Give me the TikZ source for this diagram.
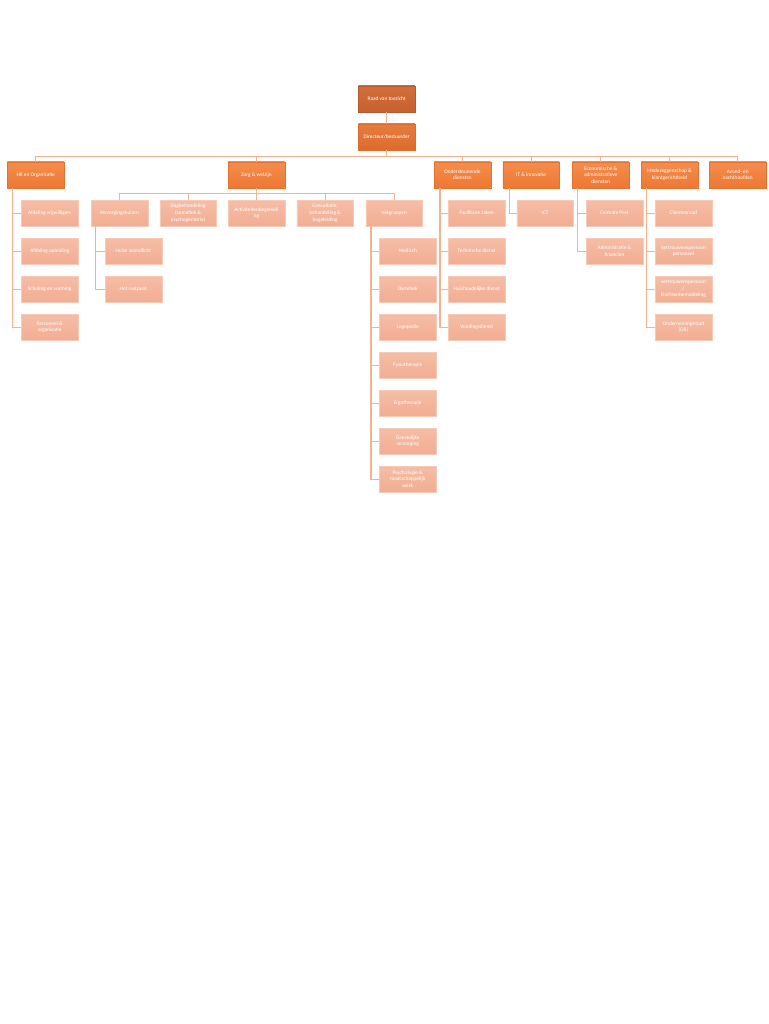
\documentclass[tikz,border=0pt]{standalone}
\usepackage{fontspec}
\setmainfont{Carlito}
\definecolor{cAt}{HTML}{D36F3A}
\definecolor{cAb}{HTML}{C66130}
\definecolor{cBt}{HTML}{E67C3E}
\definecolor{cBb}{HTML}{DC6C2E}
\definecolor{cCt}{HTML}{F48D4D}
\definecolor{cCb}{HTML}{EE7833}
\definecolor{cDt}{HTML}{F5BDA6}
\definecolor{cDb}{HTML}{F2AD92}
\definecolor{cLine}{HTML}{F4B295}
\tikzset{
  box/.style={minimum width=56.5pt, minimum height=26pt, anchor=north west, inner sep=0.5pt,
    align=center, text=white, font=\fontsize{5.3}{6.6}\selectfont},
  lvA/.style={box, top color=cAt, bottom color=cAb, draw=cAb!92!black, line width=0.3pt},
  lvB/.style={box, top color=cBt, bottom color=cBb, draw=cBb, line width=0.3pt},
  lvC/.style={box, top color=cCt, bottom color=cCb, draw=cCb!95!black, line width=0.3pt},
  lvD/.style={box, top color=cDt, bottom color=cDb, draw=cDt!80!white, line width=0.3pt},
  conn/.style={draw=cLine, line width=1.2pt}
}
\begin{document}
\begin{tikzpicture}[x=1pt,y=-1pt]
\useasboundingbox[fill=white] (0,0) rectangle (768,1024);
% top
\node[lvA] (raad) at (358.3,85.7) {Raad van toezicht};
\node[lvB] (dir) at (358.3,123.7) {Directeur/bestuurder};
% level 2
\node[lvC] (hr) at (7.3,161.7) {HR en Organisatie};
\node[lvC] (zorg) at (228,161.7) {Zorg \& welzijn};
\node[lvC] (ond) at (434,161.7) {Ondersteunende\\diensten};
\node[lvC] (it) at (502.7,161.7) {IT \& innovatie};
\node[lvC] (eco) at (572.3,161.7) {Economische \&\\administratieve\\diensten};
\node[lvC] (mede) at (641,161.7) {Medezeggenschap \&\\klantgerichtheid};
\node[lvC] (avond) at (709.3,161.7) {Avond- en\\nachthoofden};
% HR children
\node[lvD] (hr1) at (21.3,200) {Afdeling vrijwilligers};
\node[lvD] (hr2) at (21.3,238) {Afdeling opleiding};
\node[lvD] (hr3) at (21.3,276) {Scholing en vorming};
\node[lvD] (hr4) at (21.3,314) {Personeel \&\\organisatie};
% Zorg children
\node[lvD] (verz) at (91,200) {Verzorgingshuizen};
\node[lvD] (dagb) at (159.7,200) {Dagbehandeling\\(somatiek \&\\psychogeriatrie)};
\node[lvD] (activ) at (228,200) {Activiteitenbegeleidi\\ng};
\node[lvD] (cons) at (296.7,200) {Consultatie,\\behandeling \&\\begeleiding};
\node[lvD] (vakg) at (365.7,200) {Vakgroepen};
% Verzorgingshuizen children
\node[lvD] (verz1) at (105,238) {Huize avondlicht};
\node[lvD] (verz2) at (105,276) {Het rustpunt};
% Vakgroepen children
\node[lvD] (vak1) at (379.3,238) {Medisch};
\node[lvD] (vak2) at (379.3,276) {Dietetiek};
\node[lvD] (vak3) at (379.3,314) {Logopedie};
\node[lvD] (vak4) at (379.3,352) {Fysiotherapie};
\node[lvD] (vak5) at (379.3,390) {Ergotherapie};
\node[lvD] (vak6) at (379.3,428) {Geestelijke\\verzorging};
\node[lvD] (vak7) at (379.3,466) {Psychologie \&\\maatschappelijk\\werk};
% Ondersteunende children
\node[lvD] (ond1) at (448.3,200) {Facilitaire zaken};
\node[lvD] (ond2) at (448.3,238) {Technische dienst};
\node[lvD] (ond3) at (448.3,276) {Huishoudelijke dienst};
\node[lvD] (ond4) at (448.3,314) {Voedingsdienst};
% IT children
\node[lvD] (it1) at (516.7,200) {ICT};
% Eco children
\node[lvD] (eco1) at (586,200) {Centrale Post};
\node[lvD] (eco2) at (586,238) {Administratie \&\\financien};
% Mede children
\node[lvD] (mede1) at (655,200) {Clientenraad};
\node[lvD] (mede2) at (655,238) {Vertrouwenspersoon\\personeel};
\node[lvD] (mede3) at (655,276) {vertrouwenspersoon\\/\\klachtenbemiddeling};
\node[lvD] (mede4) at (655,314) {Ondernemingsraad\\(OR)};

% connectors
\draw[conn] (raad) -- (dir);
\draw[conn] (dir.south) -- ++(0,6.3) coordinate (bus);
\foreach \n in {hr,zorg,ond,it,eco,mede,avond} \draw[conn] (bus) -| (\n.north);
\draw[conn] (zorg.south) -- ++(0,5.6) coordinate (zbus);
\foreach \n in {verz,dagb,activ,cons,vakg} \draw[conn] (zbus) -| (\n.north);
\foreach \n in {hr1,hr2,hr3,hr4} \draw[conn] ([xshift=5.5pt]hr.south west) |- (\n.west);
\foreach \n in {verz1,verz2} \draw[conn] ([xshift=4.7pt]verz.south west) |- (\n.west);
\foreach \n in {vak1,vak2,vak3,vak4,vak5,vak6,vak7} \draw[conn] ([xshift=5.3pt]vakg.south west) |- (\n.west);
\foreach \n in {ond1,ond2,ond3,ond4} \draw[conn] ([xshift=6pt]ond.south west) |- (\n.west);
\draw[conn] ([xshift=6.6pt]it.south west) |- (it1.west);
\foreach \n in {eco1,eco2} \draw[conn] ([xshift=5.4pt]eco.south west) |- (\n.west);
\foreach \n in {mede1,mede2,mede3,mede4} \draw[conn] ([xshift=5.7pt]mede.south west) |- (\n.west);
\end{tikzpicture}
\end{document}
